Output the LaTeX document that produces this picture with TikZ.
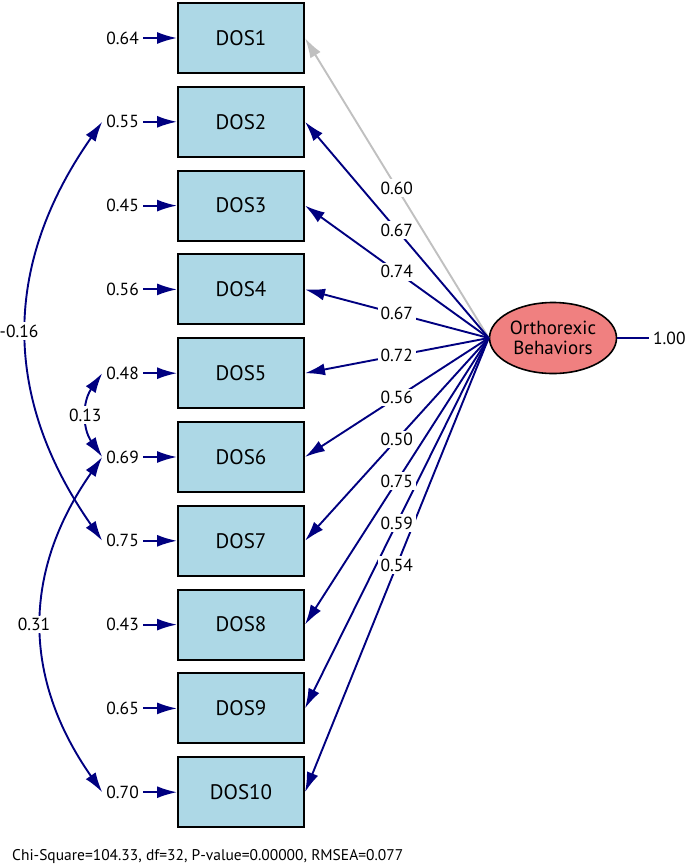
\documentclass[tikz,border=0pt]{standalone}
\usepackage{fontspec}
\setmainfont{PT Sans}
\usetikzlibrary{arrows.meta,shapes.geometric}
\definecolor{boxblue}{HTML}{ADD8E6}
\definecolor{ovalred}{HTML}{F08080}
\definecolor{pathblue}{HTML}{000080}
\definecolor{pathgray}{HTML}{C0C0C0}
\tikzset{
  obs/.style={draw=black, line width=2pt, fill=boxblue, minimum width=126pt, minimum height=70pt, inner sep=0pt, font=\fontsize{21}{24}\selectfont},
  lat/.style={ellipse, draw=black, line width=1.6pt, fill=ovalred, minimum width=127pt, minimum height=71pt, inner sep=0pt, align=center, font=\fontsize{19}{20}\selectfont},
  err/.style={inner sep=4pt, text=black, font=\fontsize{17.5}{20}\selectfont},
  lbl/.style={fill=white, inner sep=2.5pt, text=black, font=\fontsize{17.5}{20}\selectfont},
  arr/.style={pathblue, line width=1.9pt, -{Latex[length=20pt,width=12pt]}},
  cov/.style={pathblue, line width=1.9pt, {Latex[length=20pt,width=12pt]}-{Latex[length=20pt,width=12pt]}, out=235, in=125, looseness=1.07}
}
\begin{document}
\begin{tikzpicture}[x=1pt,y=1pt]
\useasboundingbox (0,0) rectangle (685,-865);

\foreach \i in {1,...,10}
  \node[obs] (d\i) at (241,{-38-83.8*(\i-1)}) {DOS\i};

\foreach \i/\v in {1/0.64,2/0.55,3/0.45,4/0.56,5/0.48,6/0.69,7/0.75,8/0.43,9/0.65,10/0.70}
  \node[err, anchor=east] (e\i) at (143,{-38-83.8*(\i-1)}) {\v};
\foreach \i in {1,...,10}
  \draw[arr] (e\i) -- (d\i.west);

\node[lat] (ob) at (553,-338) {Orthorexic\\Behaviors};
\node[err, anchor=west] (v1) at (649,-338) {1.00};
\draw[pathblue, line width=1.9pt] (ob.east) -- (v1.west);

\draw[arr, color=pathgray] (ob.west) -- (d1.east);
\foreach \i in {2,...,10}
  \draw[arr] (ob.west) -- (d\i.east);
\foreach \i/\v in {1/0.60,2/0.67,3/0.74,4/0.67,5/0.72,6/0.56,7/0.50,8/0.75,9/0.59,10/0.54}
  \path (ob.west) -- node[lbl] {\v} (d\i.east);

\draw[cov] (e2.west) to node[lbl, xshift=-8pt] {-0.16} (e7.west);
\draw[cov] (e5.west) to node[lbl, xshift=-2pt] {0.13} (e6.west);
\draw[cov] (e6.west) to node[lbl, xshift=-8pt] {0.31} (e10.west);

\node[anchor=base west, inner sep=0pt, font=\fontsize{15.5}{18}\selectfont] (fit) at (12,-860) {Chi-Square=104.33, df=32, P-value=0.00000, RMSEA=0.077};
\end{tikzpicture}
\end{document}
